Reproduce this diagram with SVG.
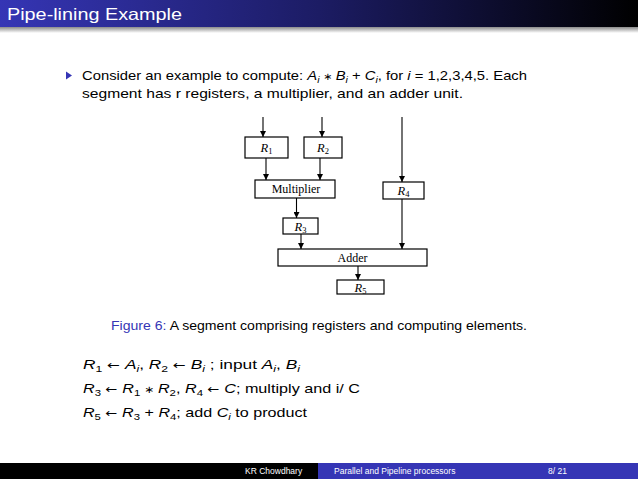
<svg xmlns="http://www.w3.org/2000/svg" width="638" height="479" viewBox="0 0 638 479">
<defs>
<linearGradient id="tb" x1="0" y1="0" x2="1" y2="0">
<stop offset="0" stop-color="#3535b5"/>
<stop offset="0.5" stop-color="#1c1c64"/>
<stop offset="1" stop-color="#000000"/>
</linearGradient>
<linearGradient id="sh" x1="0" y1="0" x2="0" y2="1">
<stop offset="0" stop-color="#8a8a8a"/>
<stop offset="1" stop-color="#ffffff"/>
</linearGradient>
<marker id="ah" viewBox="0 0 6 6" refX="6" refY="3" markerWidth="6" markerHeight="6" markerUnits="userSpaceOnUse" orient="auto">
<path d="M0,0 L6,3 L0,6 Z" fill="#000"/>
</marker>
<style>
.body{font-family:"Liberation Sans","DejaVu Sans",sans-serif;font-size:13.5px;fill:#000}
.m{font-style:italic}
.sub{font-size:9.5px}
.op{font-family:"DejaVu Sans",sans-serif;font-size:10px}
.ar{font-family:"DejaVu Sans",sans-serif;font-size:12px}
.box{fill:#fff;stroke:#000;stroke-width:1.2}
.lbl{font-family:"Liberation Serif","DejaVu Serif",serif;font-size:12px;fill:#000;text-anchor:middle}
.ri{font-style:italic;font-size:12.5px}
.rs{font-size:8.5px}
.c{stroke:#000;stroke-width:1.1;fill:none;marker-end:url(#ah)}
.foot{font-family:"Liberation Sans","DejaVu Sans",sans-serif;font-size:8.5px;fill:#fff}
</style>
</defs>
<rect width="638" height="479" fill="#fff"/>
<!-- title bar -->
<rect x="0" y="0" width="638" height="27" fill="url(#tb)"/>
<rect x="0" y="27" width="638" height="6" fill="url(#sh)"/>
<text x="7" y="20" font-family="'Liberation Sans','DejaVu Sans',sans-serif" font-size="16.5" fill="#fff" textLength="175" lengthAdjust="spacingAndGlyphs">Pipe-lining Example</text>
<!-- bullet -->
<path d="M66,71.5 L72,75.5 L66,79.5 Z" fill="#3535b5"/>
<text class="body" x="82" y="80" textLength="445" lengthAdjust="spacingAndGlyphs">Consider an example to compute: <tspan class="m">A</tspan><tspan class="m sub" dy="3">i</tspan><tspan class="op" dy="-3"> ∗ </tspan><tspan class="m">B</tspan><tspan class="m sub" dy="3">i</tspan><tspan dy="-3"> + </tspan><tspan class="m">C</tspan><tspan class="m sub" dy="3">i</tspan><tspan dy="-3">, for </tspan><tspan class="m">i</tspan> = 1,2,3,4,5. Each</text>
<text class="body" x="82" y="98" textLength="381" lengthAdjust="spacingAndGlyphs">segment has r registers, a multiplier, and an adder unit.</text>
<!-- connectors -->
<g id="connectors">
<line class="c" x1="263" y1="117" x2="263" y2="137"/>
<line class="c" x1="322" y1="117" x2="322" y2="137"/>
<line class="c" x1="266" y1="158" x2="266" y2="180"/>
<line class="c" x1="320" y1="158" x2="320" y2="180"/>
<line class="c" x1="402" y1="117" x2="402" y2="182"/>
<line class="c" x1="296.5" y1="198" x2="296.5" y2="218"/>
<line class="c" x1="301" y1="234" x2="301" y2="249"/>
<line class="c" x1="402" y1="199" x2="402" y2="249"/>
<line class="c" x1="358" y1="266" x2="358" y2="280"/>
</g>
<g id="R1"><rect class="box" x="245" y="137" width="43" height="21"/><text class="lbl" x="266.5" y="151.5"><tspan class="ri">R</tspan><tspan class="rs" dy="2">1</tspan></text></g>
<g id="R2"><rect class="box" x="304" y="137" width="38" height="21"/><text class="lbl" x="323" y="151.5"><tspan class="ri">R</tspan><tspan class="rs" dy="2">2</tspan></text></g>
<g id="Multiplier"><rect class="box" x="255" y="180" width="80" height="18"/><text class="lbl" x="296" y="193">Multiplier</text></g>
<g id="R4"><rect class="box" x="383" y="182" width="41" height="17"/><text class="lbl" x="403.5" y="195"><tspan class="ri">R</tspan><tspan class="rs" dy="2">4</tspan></text></g>
<g id="R3"><rect class="box" x="283" y="218" width="35" height="16"/><text class="lbl" x="300.5" y="230.5"><tspan class="ri">R</tspan><tspan class="rs" dy="2">3</tspan></text></g>
<g id="Adder"><rect class="box" x="278" y="249" width="149" height="17"/><text class="lbl" x="352.5" y="261.5">Adder</text></g>
<g id="R5"><rect class="box" x="337" y="280" width="47" height="14"/><text class="lbl" x="360.5" y="291.5"><tspan class="ri">R</tspan><tspan class="rs" dy="2">5</tspan></text></g>
<!-- caption -->
<text class="body" x="111" y="330" textLength="416" lengthAdjust="spacingAndGlyphs"><tspan fill="#3535b5">Figure 6:</tspan> A segment comprising registers and computing elements.</text>
<!-- equations -->
<text class="body" x="83" y="369" textLength="217" lengthAdjust="spacingAndGlyphs"><tspan class="m">R</tspan><tspan class="sub" dy="3">1</tspan><tspan class="ar" dy="-3"> ← </tspan><tspan class="m">A</tspan><tspan class="m sub" dy="3">i</tspan><tspan dy="-3">, </tspan><tspan class="m">R</tspan><tspan class="sub" dy="3">2</tspan><tspan class="ar" dy="-3"> ← </tspan><tspan class="m">B</tspan><tspan class="m sub" dy="3">i</tspan><tspan dy="-3"> ; input </tspan><tspan class="m">A</tspan><tspan class="m sub" dy="3">i</tspan><tspan dy="-3">, </tspan><tspan class="m">B</tspan><tspan class="m sub" dy="3">i</tspan></text>
<text class="body" x="83" y="393" textLength="277" lengthAdjust="spacingAndGlyphs"><tspan class="m">R</tspan><tspan class="sub" dy="3">3</tspan><tspan class="ar" dy="-3"> ← </tspan><tspan class="m">R</tspan><tspan class="sub" dy="3">1</tspan><tspan class="op" dy="-3"> ∗ </tspan><tspan class="m">R</tspan><tspan class="sub" dy="3">2</tspan><tspan dy="-3">, </tspan><tspan class="m">R</tspan><tspan class="sub" dy="3">4</tspan><tspan class="ar" dy="-3"> ← </tspan><tspan class="m">C</tspan>; multiply and i/ C</text>
<text class="body" x="83" y="417" textLength="224" lengthAdjust="spacingAndGlyphs"><tspan class="m">R</tspan><tspan class="sub" dy="3">5</tspan><tspan class="ar" dy="-3"> ← </tspan><tspan class="m">R</tspan><tspan class="sub" dy="3">3</tspan><tspan dy="-3"> + </tspan><tspan class="m">R</tspan><tspan class="sub" dy="3">4</tspan><tspan dy="-3">; add </tspan><tspan class="m">C</tspan><tspan class="m sub" dy="3">i</tspan><tspan dy="-3"> to product</tspan></text>
<!-- footer -->
<rect x="0" y="463" width="318" height="16" fill="#000"/>
<rect x="318" y="463" width="320" height="16" fill="#3535b5"/>
<text class="foot" x="245" y="474">KR Chowdhary</text>
<text class="foot" x="334" y="474">Parallel and Pipeline processors</text>
<text class="foot" x="548" y="474">8/ 21</text>
</svg>
